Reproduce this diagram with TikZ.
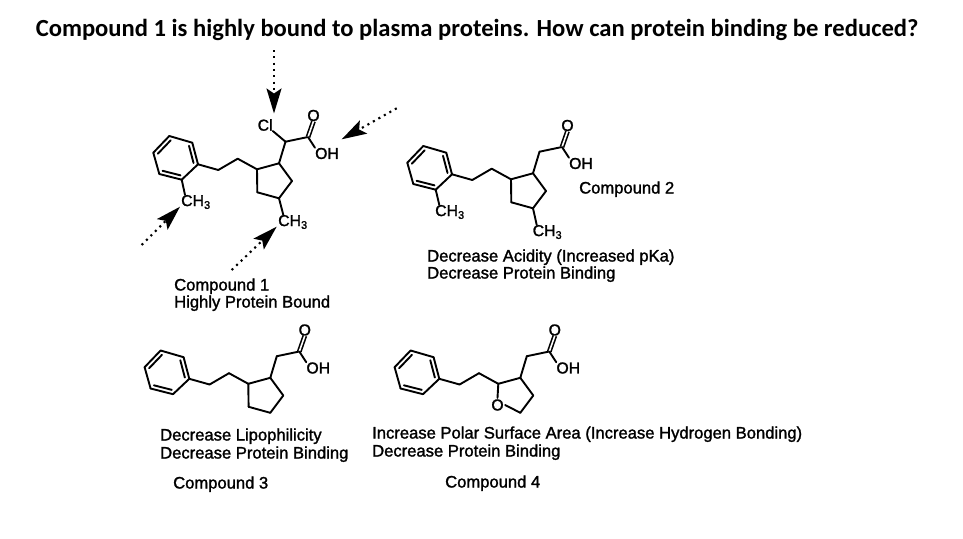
\documentclass[tikz,border=0pt]{standalone}
\usepackage{fontspec}
\setmainfont{Liberation Sans}
\newfontfamily\titlefont{Carlito}
\newfontfamily\labfont[FakeBold=1.5]{Liberation Sans}
\usetikzlibrary{arrows.meta,calc}
\tikzset{
  bond/.style={line width=1.9pt,line join=round,line cap=round,black},
  dbl/.style={line cap=butt,double=white,double distance=1.6pt,line width=1.6pt,black},
  dotarrow/.style={line width=2.1pt,dash pattern=on 2.1pt off 4.2pt,black,-{Stealth[length=25pt,width=15pt,inset=5pt,sep=0pt]}},
  atom/.style={inner sep=0pt,font=\labfont\fontsize{15.8}{15.8}\selectfont,text=black},
  caption/.style={inner sep=0pt,anchor=base west,font=\labfont\fontsize{16.6}{16.6}\selectfont,text=black}
}
\newcommand{\innerb}[3]{\draw[bond] ($(#1)!.2!(#3)$) -- ($(#2)!.2!(#3)$);}
% #1 prefix, #2 x offset, #3 y offset
\newcommand{\core}[3]{
  \begin{scope}[shift={(#2,#3)}]
  \coordinate (#1va) at (169.3,136);
  \coordinate (#1vb) at (192.3,142.7);
  \coordinate (#1vc) at (198,164.3);
  \coordinate (#1vd) at (181.7,179.7);
  \coordinate (#1ve) at (159.3,174);
  \coordinate (#1vf) at (153.3,152.7);
  \coordinate (#1vm) at (175.8,158);
  \coordinate (#1vg) at (218.3,170);
  \coordinate (#1vh) at (237.7,158.7);
  \coordinate (#1vi) at (257,169.3);
  \coordinate (#1vj) at (279,163.3);
  \coordinate (#1vk) at (292,181);
  \coordinate (#1vl) at (279,198.3);
  \coordinate (#1vn) at (257.3,192.3);
  \coordinate (#1vs) at (285.5,141.7);
  \coordinate (#1vt) at (308,137);
  \node[atom] (#1O) at (313.5,115.5) {O};
  \node[atom] (#1OH) at (327,153.5) {OH};
  \end{scope}
  \draw[bond] (#1va)--(#1vb);
  \draw[bond] (#1vb)--(#1vc);
  \draw[bond] (#1vc)--(#1vd);
  \draw[bond] (#1vd)--(#1ve);
  \draw[bond] (#1ve)--(#1vf);
  \draw[bond] (#1vf)--(#1va);
  \innerb{#1va}{#1vf}{#1vm}
  \innerb{#1vb}{#1vc}{#1vm}
  \innerb{#1vd}{#1ve}{#1vm}
  \draw[bond] (#1vc)--(#1vg);
  \draw[bond] (#1vg)--(#1vh);
  \draw[bond] (#1vh)--(#1vi);
  \draw[bond] (#1vi)--(#1vj);
  \draw[bond] (#1vj)--(#1vk);
  \draw[bond] (#1vk)--(#1vl);
  \draw[bond] (#1vj)--(#1vs);
  \draw[bond] (#1vs)--(#1vt);
  \draw[dbl] (#1vt)--(#1O.south);
  \draw[bond] (#1vt)--(#1OH.north west);
}
\begin{document}
\begin{tikzpicture}[x=1pt,y=-1pt]
\useasboundingbox[fill=white] (0,0) rectangle (963,538);
\node[inner sep=0pt,anchor=base,font=\titlefont\bfseries\fontsize{24.6}{24.6}\selectfont] (title) at (477,36) {Compound 1 is highly bound to plasma proteins. How can protein binding be reduced?};

% Compound 1
\core{A}{0}{0}
\draw[bond] (Avi)--(Avn);
\draw[bond] (Avn)--(Avl);
\node[atom,anchor=west] (ACl) at (257.5,125) {Cl};
\node[atom,anchor=west] (AMe1) at (181,202) {CH\textsubscript{3}};
\node[atom,anchor=west] (AMe2) at (278,222) {CH\textsubscript{3}};
\draw[bond] (Avs)--(ACl.south east);
\draw[bond] (Avd)--(AMe1.north west -| 185,195);
\draw[bond] (Avl)--(AMe2.north west -| 283.3,213);
\coordinate (t1) at (274,50);\coordinate (h1) at (274,113.5);
\coordinate (t2) at (396.7,108.3);\coordinate (h2) at (341.7,139.3);
\coordinate (t3) at (141.7,245);\coordinate (h3) at (180,206.7);
\coordinate (t4) at (231.7,270);\coordinate (h4) at (276.7,226.7);
\draw[dotarrow] (t1)--(h1);
\draw[dotarrow] (t2)--(h2);
\draw[dotarrow] (t3)--(h3);
\draw[dotarrow] (t4)--(h4);
\node[caption] (c1a) at (174,290.5) {Compound 1};
\node[caption] (c1b) at (174,307.5) {Highly Protein Bound};

% Compound 2
\core{B}{254}{10}
\draw[bond] (Bvi)--(Bvn);
\draw[bond] (Bvn)--(Bvl);
\node[atom,anchor=west] (BMe1) at (435,212) {CH\textsubscript{3}};
\node[atom,anchor=west] (BMe2) at (532.5,232) {CH\textsubscript{3}};
\draw[bond] (Bvd)--(BMe1.north west -| 439.3,205);
\draw[bond] (Bvl)--(BMe2.north west -| 536.7,225);
\node[caption] (c2) at (579,193.5) {Compound 2};
\node[caption] (c2a) at (427,261.5) {Decrease Acidity (Increased pKa)};
\node[caption] (c2b) at (427,278.5) {Decrease Protein Binding};

% Compound 3
\core{C}{-8.7}{214.5}
\draw[bond] (Cvi)--(Cvn);
\draw[bond] (Cvn)--(Cvl);
\node[caption] (c3a) at (160,440.5) {Decrease Lipophilicity};
\node[caption] (c3b) at (160,458.5) {Decrease Protein Binding};
\node[caption] (c3) at (173,488.5) {Compound 3};

% Compound 4
\core{D}{241.3}{214.5}
\node[atom,outer sep=1.5pt] (DO) at (497.5,405) {O};
\draw[bond] (Dvi)--(DO.north);
\draw[bond] (DO.east)--(Dvl);
\node[caption] (c4a) at (372,438.5) {Increase Polar Surface Area (Increase Hydrogen Bonding)};
\node[caption] (c4b) at (372,456.5) {Decrease Protein Binding};
\node[caption] (c4) at (445,487.5) {Compound 4};
\end{tikzpicture}
\end{document}
